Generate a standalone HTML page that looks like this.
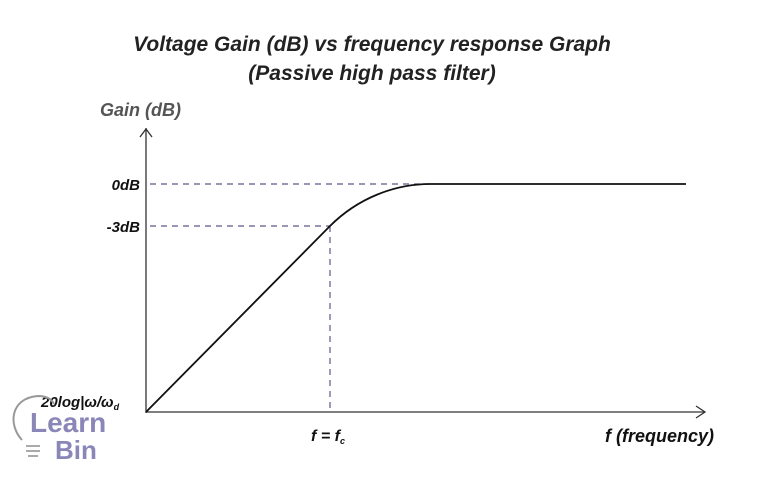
<!DOCTYPE html>
<html><head><style>
body{margin:0;background:#fff;}
svg{display:block;font-family:"Liberation Sans",sans-serif;}
</style></head><body>
<svg width="768" height="478" viewBox="0 0 768 478">
<text x="372" y="51" text-anchor="middle" font-size="21" font-weight="bold" font-style="italic" fill="#222">Voltage Gain (dB) vs frequency response Graph</text>
<text x="372" y="80" text-anchor="middle" font-size="21" font-weight="bold" font-style="italic" fill="#222">(Passive high pass filter)</text>
<text x="100" y="116" font-size="18" font-weight="bold" font-style="italic" fill="#555">Gain (dB)</text>
<g stroke="#333" stroke-width="1.3" fill="none">
<line x1="146" y1="128" x2="146" y2="413"/>
<polyline points="140,137 146,129 152,137"/>
<line x1="146" y1="412" x2="704" y2="412"/>
<polyline points="696,406 705,412 696,418"/>
</g>
<g stroke="#5a5a8a" stroke-width="1.2" stroke-dasharray="6,5" fill="none">
<line x1="150" y1="184" x2="430" y2="184"/>
<line x1="150" y1="226" x2="330" y2="226"/>
<line x1="330" y1="226" x2="330" y2="412"/>
</g>
<path d="M146,412 L330,226 C358,198 395,184 430,184 L686,184" stroke="#111" stroke-width="1.8" fill="none"/>
<text x="140" y="190" text-anchor="end" font-size="15" font-weight="bold" font-style="italic" fill="#111">0dB</text>
<text x="140" y="232" text-anchor="end" font-size="15" font-weight="bold" font-style="italic" fill="#111">-3dB</text>
<text x="41" y="407" font-size="15" font-weight="bold" font-style="italic" fill="#111">20log|ω/ω<tspan font-size="9" dy="3">d</tspan></text>
<text x="328" y="441" font-size="16" font-weight="bold" font-style="italic" fill="#111" text-anchor="middle">f = f<tspan font-size="9" dy="3">c</tspan></text>
<text x="605" y="442" font-size="18" font-weight="bold" font-style="italic" fill="#111">f (frequency)</text>
<path d="M22,440 C8,425 10,398 38,396 C48,396 52,400 54,404" stroke="#999" stroke-width="2" fill="none"/>
<g stroke="#aaa" stroke-width="2"><line x1="26" y1="446" x2="40" y2="446"/><line x1="26" y1="451" x2="40" y2="451"/><line x1="28" y1="456" x2="38" y2="456"/></g>
<text x="30" y="432" font-size="28" font-weight="bold" fill="#8a87b8">Learn</text>
<text x="55" y="459" font-size="26" font-weight="bold" fill="#8a87b8">Bin</text>
</svg>
</body></html>
